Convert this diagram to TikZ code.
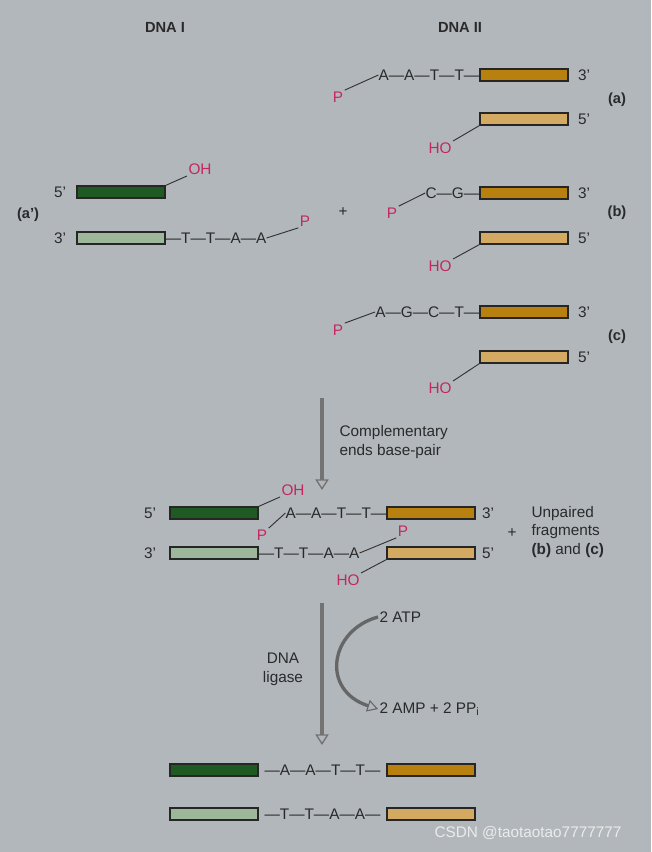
\documentclass[tikz,border=0pt]{standalone}
\usepackage{fontspec}
\setmainfont{Liberation Sans}
\usetikzlibrary{arrows.meta,calc}
\definecolor{bg}{HTML}{B2B7BB}
\definecolor{dg}{HTML}{1E5A22}
\definecolor{lg}{HTML}{9DB79A}
\definecolor{dor}{HTML}{B8800E}
\definecolor{lt}{HTML}{D4AA62}
\definecolor{mag}{HTML}{C22763}
\definecolor{txt}{HTML}{2A2A2A}
\begin{document}
\begin{tikzpicture}[x=0.75pt,y=-0.75pt,
  every node/.style={font=\fontsize{11.5}{14}\selectfont,text=txt,inner sep=1pt},
  bar/.style={draw=black!85,line width=0.8pt,minimum width=66pt,minimum height=9pt,inner sep=0pt},
  dgb/.style={bar,fill=dg}, lgb/.style={bar,fill=lg}, dob/.style={bar,fill=dor}, ltb/.style={bar,fill=lt},
  red/.style={text=mag}, lbl/.style={font=\bfseries\fontsize{11}{13}\selectfont},
  ln/.style={draw=black!80,line width=0.7pt},
  bigarrow/.style={draw=black!55,line width=3pt,-{Triangle[open,length=8pt,width=10pt,line width=1pt]}}]
\fill[bg] (0,0) rectangle (651,852);
\useasboundingbox (0,0) rectangle (651,852);
\node[lbl] (d1) at (165,27) {DNA I};
\node[lbl] (d2) at (460,27) {DNA II};
% (a)
\node[dob] (ab1) at (524,75) {};
\node (a3) at (584,75) {3'};
\node[anchor=east,inner sep=0pt] (as) at (ab1.west) {A—A—T—T—};
\node[red] (ap) at (338,97) {P};
\draw[ln] (ap.north east) -- (as.west);
\node[ltb] (ab2) at (524,119) {};
\node (a5) at (584,119) {5'};
\node[red] (aho) at (440,148) {HO};
\draw[ln] (aho.north east) -- (ab2.south west);
\node[lbl] (la) at (617,100) {(a)};
% (b)
\node[dob] (bb1) at (524,193) {};
\node (b3) at (584,193) {3'};
\node[anchor=east,inner sep=0pt] (bs) at (bb1.west) {C—G—};
\node[red] (bp) at (392,213) {P};
\draw[ln] (bp.north east) -- (bs.west);
\node[ltb] (bb2) at (524,238) {};
\node (b5) at (584,238) {5'};
\node[red] (bho) at (440,266) {HO};
\draw[ln] (bho.north east) -- (bb2.south west);
\node[lbl] (lb) at (617,213) {(b)};
% (c)
\node[dob] (cb1) at (524,312) {};
\node (c3) at (584,312) {3'};
\node[anchor=east,inner sep=0pt] (cs) at (cb1.west) {A—G—C—T—};
\node[red] (cp) at (338,330) {P};
\draw[ln] (cp.north east) -- (cs.west);
\node[ltb] (cb2) at (524,357) {};
\node (c5) at (584,357) {5'};
\node[red] (cho) at (440,388) {HO};
\draw[ln] (cho.north east) -- (cb2.south west);
\node[lbl] (lc) at (617,337) {(c)};
% (a')
\node[dgb] (pb1) at (121,192) {};
\node (p5) at (60,192) {5'};
\node[red] (poh) at (200,169) {OH};
\draw[ln] (pb1.north east) -- (poh.south west);
\node[lgb] (pb2) at (121,238) {};
\node (p3) at (60,238) {3'};
\node[anchor=west,inner sep=0pt] (ps) at (pb2.east) {—T—T—A—A};
\node[red] (pp) at (305,221) {P};
\draw[ln] (ps.east) -- (pp.south west);
\node[lbl] (lp) at (28,215) {(a')};
\node (plus1) at (343,212) {+};
% arrow 1
\coordinate (a1s) at (322,398);
\coordinate (a1e) at (322,490);
\draw[bigarrow] (a1s) -- (a1e);
\node[align=left,anchor=west] (comp) at (338,442) {Complementary\\ends base-pair};
% middle
\node[dgb] (mb1) at (214,513) {};
\node (m5a) at (150,513) {5'};
\node[red] (moh) at (293,490) {OH};
\draw[ln] (mb1.north east) -- (moh.south west);
\node[dob] (mb2) at (431,513) {};
\node (m3a) at (488,513) {3'};
\node[anchor=east,inner sep=0pt] (ms1) at (mb2.west) {A—A—T—T—};
\node[red] (mp1) at (262,535) {P};
\draw[ln] (mp1.north east) -- (ms1.west);
\node[lgb] (mb3) at (214,553) {};
\node (m3b) at (150,553) {3'};
\node[anchor=west,inner sep=0pt] (ms2) at (mb3.east) {—T—T—A—A};
\node[red] (mp2) at (403,531) {P};
\draw[ln] (ms2.east) -- (mp2.south west);
\node[ltb] (mb4) at (431,553) {};
\node (m5b) at (488,553) {5'};
\node[red] (mho) at (348,580) {HO};
\draw[ln] (mho.north east) -- (mb4.south west);
\node (plus2) at (512,533) {+};
\node[align=left,anchor=west] (unp) at (530,532) {Unpaired\\fragments\\\textbf{(b)} and \textbf{(c)}};
% arrow 2
\coordinate (a2s) at (322,603);
\coordinate (a2e) at (322,745);
\draw[bigarrow] (a2s) -- (a2e);
\node[align=center] (lig) at (283,669) {DNA\\ligase};
\node[anchor=west] (atp) at (378,617) {2 ATP};
\node[anchor=west] (amp) at (378,709) {2 AMP + 2 PP\textsubscript{i}};
\draw[draw=black!60,line width=2.5pt,-{Triangle[open,length=8pt,width=9pt,line width=0.8pt]}]
  (atp.west) .. controls (330,630) and (320,690) .. (amp.west);
% bottom
\node[dgb] (fb1) at (214,770) {};
\node[dob] (fb2) at (431,770) {};
\node[inner sep=0pt] (fs1) at ($(fb1.east)!0.5!(fb2.west)$) {—A—A—T—T—};
\node[lgb] (fb3) at (214,814) {};
\node[ltb] (fb4) at (431,814) {};
\node[inner sep=0pt] (fs2) at ($(fb3.east)!0.5!(fb4.west)$) {—T—T—A—A—};
\node[text=white!92!black] (wm) at (528,833) {CSDN @taotaotao7777777};
\end{tikzpicture}
\end{document}
